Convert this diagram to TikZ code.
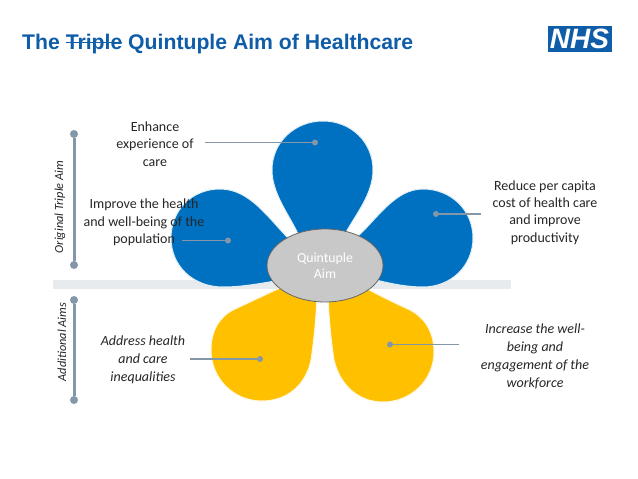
\documentclass[tikz,border=0pt]{standalone}
\usepackage{fontspec}
\usetikzlibrary{shapes.geometric}
\setmainfont{Carlito}
\newfontfamily\titlefont{Liberation Sans}
\definecolor{nhsblue}{HTML}{0F5CA8}
\definecolor{petalblue}{HTML}{0070C0}
\definecolor{petalgold}{HTML}{FFC000}
\definecolor{barcol}{HTML}{E7EBEE}
\definecolor{linecol}{HTML}{8497A8}
\definecolor{hubgray}{HTML}{C8C8C8}
\definecolor{textcol}{HTML}{262626}
\newsavebox{\strkbox}
\newcommand{\strk}[1]{\sbox{\strkbox}{#1}\rlap{\rule[0.27em]{\wd\strkbox}{0.07em}}\usebox{\strkbox}}
\tikzset{
  x=1pt,y=-1pt,
  petalb/.style={fill=petalblue,draw=petalblue!12,line width=1pt},
  petalg/.style={fill=petalgold,draw=petalgold!12,line width=1pt},
  lbl/.style={font=\fontsize{14}{17.4}\selectfont,text=textcol,align=center,inner sep=0pt},
  lbli/.style={lbl,font=\fontsize{14}{17.8}\selectfont\itshape},
  side/.style={font=\fontsize{12.3}{14}\selectfont\itshape,text=textcol,rotate=90,inner sep=0pt},
  dotn/.style={circle,fill=linecol,inner sep=0pt,minimum size=6pt},
  enddot/.style={circle,fill=linecol,inner sep=0pt,minimum size=8pt},
  conn/.style={draw=linecol,line width=1.1pt},
  sidebar/.style={draw=linecol,line width=3pt}
}
\begin{document}
\begin{tikzpicture}
\useasboundingbox (0,0) rectangle (638,479);
\fill[white] (0,0) rectangle (638,479);
% title
\node[anchor=base west,inner sep=0pt,text=nhsblue,font=\titlefont\bfseries\fontsize{21.2}{24}\selectfont] (title) at (22,49) {The \strk{Triple} Quintuple Aim of Healthcare};
% logo
\node[fill=nhsblue,text=white,inner sep=0pt,minimum width=64pt,minimum height=26.5pt,font=\titlefont\bfseries\itshape\fontsize{28}{28}\selectfont] (nhs) at (579.5,39) {NHS};
% band
\fill[barcol] (53,280) rectangle (511,289);
% blue petals
\draw[petalb] (298,234) .. controls (290,216) and (272,194) .. (272,170)
  .. controls (272,142) and (295,121) .. (323,121)
  .. controls (351,121) and (373,142) .. (373,170)
  .. controls (373,194) and (356,214) .. (345,234) -- cycle;
\draw[petalb] (290,240) .. controls (268,218) and (250,189) .. (220,189)
  .. controls (192,189) and (171,210) .. (171,238)
  .. controls (171,266) and (193,287) .. (223,287)
  .. controls (240,287) and (258,284) .. (275,281) -- cycle;
\draw[petalb] (356,238) .. controls (378,218) and (395,189) .. (423,189)
  .. controls (451,189) and (473,210) .. (473,238)
  .. controls (473,266) and (451,287) .. (423,287)
  .. controls (408,287) and (392,284) .. (376,280) -- cycle;
% gold petals
\draw[petalg] (317,296) .. controls (316,320) and (314,340) .. (311,360)
  .. controls (306,385) and (287,401) .. (262,401)
  .. controls (233,401) and (211,378) .. (211,350)
  .. controls (211,330) and (220,316) .. (235,309)
  .. controls (250,302) and (265,295) .. (282,287) -- cycle;
\draw[petalg] (328,296) .. controls (329,320) and (331,340) .. (334,360)
  .. controls (340,385) and (358,402) .. (383,402)
  .. controls (411,402) and (434,380) .. (434,352)
  .. controls (434,332) and (425,318) .. (410,310)
  .. controls (395,303) and (380,296) .. (364,287) -- cycle;
% hub
\node[ellipse,draw=black!60,line width=0.8pt,fill=hubgray,minimum width=116pt,minimum height=73pt,inner sep=0pt,text=white,align=center,font=\fontsize{13.8}{16}\selectfont] (hub) at (325,265.5) {Quintuple\\Aim};
% side bars
\node[enddot] (o1) at (74,134) {};
\node[enddot] (o2) at (74,265) {};
\node[enddot] (a1) at (74,300) {};
\node[enddot] (a2) at (74,400) {};
\draw[sidebar] (o1) -- (o2);
\draw[sidebar] (a1) -- (a2);
\node[side] (sideo) at (60,207) {Original Triple Aim};
\node[side] (sidea) at (62,342) {Additional Aims};
% labels
\node[lbl] (enh) at (155,144) {Enhance\\experience of\\care};
\node[lbl] (imp) at (144,222.5) {Improve the health\\and well-being of the\\population};
\node[lbl] (red) at (545,212.5) {Reduce per capita\\cost of health care\\and improve\\productivity};
\node[lbli] (add) at (143,359.5) {Address health\\and care\\inequalities};
\node[lbli] (inc) at (535,356.5) {Increase the well-\\being and\\engagement of the\\workforce};
% connectors
\node[dotn] (d1) at (315,142.5) {};
\node[dotn] (d2) at (228,240.5) {};
\node[dotn] (d3) at (436,214) {};
\node[dotn] (d4) at (260,359) {};
\node[dotn] (d5) at (390,344.5) {};
\coordinate (e1) at (205,142.5);
\coordinate (e2) at (182,240.5);
\coordinate (e3) at (481,214);
\coordinate (e4) at (190,359);
\coordinate (e5) at (459,344.5);
\draw[conn] (e1) -- (d1);
\draw[conn] (e2) -- (d2);
\draw[conn] (d3) -- (e3);
\draw[conn] (e4) -- (d4);
\draw[conn] (d5) -- (e5);
\end{tikzpicture}
\end{document}
